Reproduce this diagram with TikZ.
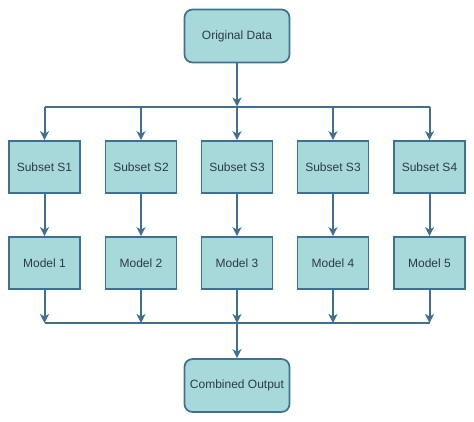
\documentclass[tikz,border=0pt]{standalone}
\usepackage{fontspec}
\setmainfont{Liberation Sans}
\usetikzlibrary{arrows.meta}
\definecolor{boxfill}{HTML}{A8D9DA}
\definecolor{boxline}{HTML}{3C7191}
\definecolor{txt}{HTML}{2B3A48}
\tikzset{
  box/.style={draw=boxline, fill=boxfill, line width=1.7pt, minimum width=71pt, minimum height=52pt, inner sep=0pt, font=\fontsize{12}{14}\selectfont, text=txt},
  rbox/.style={box, rounded corners=8pt, minimum width=105pt, minimum height=53pt},
  conn/.style={draw=boxline, line width=2pt},
  arr/.style={conn, -{Stealth[length=9pt,width=9pt,inset=2.5pt]}}
}
\begin{document}
\begin{tikzpicture}[x=1pt,y=-1pt]
\useasboundingbox (0,0) rectangle (474,421);
\node[rbox] (od) at (237,36) {Original Data};
\foreach \i/\x/\t in {1/44.5/Subset S1,2/141/Subset S2,3/237/Subset S3,4/333/Subset S3,5/429.5/Subset S4}{
  \node[box] (s\i) at (\x,167) {\t};
  \coordinate (t\i) at (\x,106.5);
  \coordinate (b\i) at (\x,323);
}
\foreach \i/\x/\t in {1/44.5/Model 1,2/141/Model 2,3/237/Model 3,4/333/Model 4,5/429.5/Model 5}{
  \node[box] (m\i) at (\x,263) {\t};
}
\node[rbox] (co) at (237,385.5) {Combined Output};
\draw[conn] (t1) -- (t5);
\draw[conn] (b1) -- (b5);
\draw[arr] (od) -- (t3);
\foreach \i in {1,...,5}{
  \draw[arr] (t\i) -- (s\i);
  \draw[arr] (s\i) -- (m\i);
  \draw[arr] (m\i) -- (b\i);
}
\draw[arr] (b3) -- (co);
\end{tikzpicture}
\end{document}
